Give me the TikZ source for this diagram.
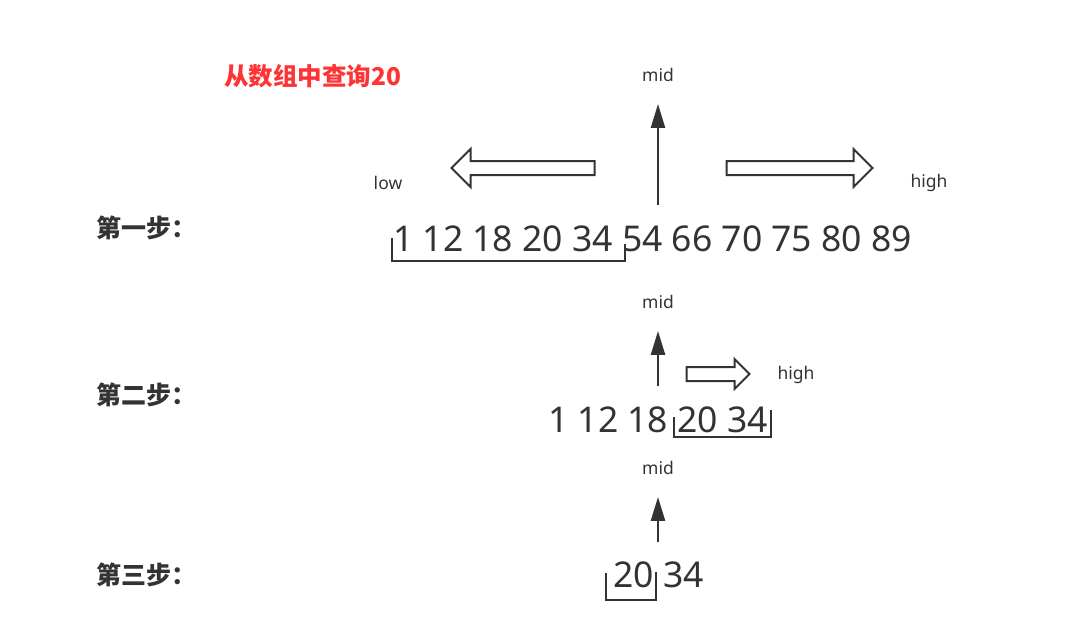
\documentclass[tikz,border=0pt]{standalone}
\usepackage{fontspec}
\setmainfont{Noto Sans}
\newfontfamily\cjk{Noto Sans CJK SC}
\usetikzlibrary{positioning,arrows.meta,shapes.arrows}
\definecolor{ink}{RGB}{51,51,51}
\definecolor{alert}{RGB}{255,51,51}

\tikzset{
  num/.style={anchor=base west,inner sep=0pt,text=ink,font=\fontsize{35.5}{40}\selectfont},
  tag/.style={inner sep=0pt,text=ink,font=\fontsize{17.5}{20}\selectfont},
  steplabel/.style={anchor=west,inner sep=0pt,text=ink,font=\cjk\bfseries\fontsize{25}{29}\selectfont},
  hollow/.style={single arrow,draw=ink,line width=2pt,fill=white,inner sep=6pt,
    single arrow head extend=#1,minimum height=10pt},
  midarrow/.style={-{Triangle[length=24pt,width=14pt]},line width=2.4pt,draw=ink,shorten >=22pt},
  bracket/.style={line width=2pt,draw=ink}
}

\begin{document}
\begin{tikzpicture}[x=1pt,y=-1pt]
    \useasboundingbox (0,0) rectangle (1080,635);

    % Titre
    \node[anchor=west,inner sep=0pt,text=alert,font=\cjk\bfseries\fontsize{24.5}{29}\selectfont] (title) at (224,76) {从数组中查询20};

    % Étapes
    \node[steplabel] (s1) at (96,228) {第一步：};
    \node[steplabel] (s2) at (96,395) {第二步：};
    \node[steplabel] (s3) at (96,575) {第三步：};

    % Premier pas
    \node[num] (row1) at (393,251) {1 12 18 20 34 54 66 70 75 80 89};
    \node[tag] (mid1) at (658,75) {mid};
    \coordinate (m1) at (658,205);
    \draw[midarrow] (m1) -- (mid1.south);
    \node[hollow=12pt,minimum height=143pt,shape border rotate=180] (left1) at (526.5,168) {};
    \node[hollow=12pt,minimum height=146pt] (right1) at (796,168) {};
    \node[tag] (low1) at (388,183) {low};
    \node[tag] (high1) at (929,183) {high};
    \draw[bracket] (392,238) -- (392,261) -- (625,261) -- (625,244);

    % Deuxième pas
    \node[num] (row2) at (548,432) {1 12 18 20 34};
    \node[tag] (mid2) at (658,302) {mid};
    \coordinate (m2) at (658,386);
    \draw[midarrow] (m2) -- (mid2.south);
    \node[hollow=8pt,minimum height=63pt] (right2) at (714.5,374) {};
    \node[tag] (high2) at (796,375) {high};
    \draw[bracket] (674,417) -- (674,437) -- (771,437) -- (771,410);

    % Troisième pas
    \node[num] (row3) at (613,587) {20 34};
    \node[tag] (mid3) at (658,468) {mid};
    \coordinate (m3) at (658,542);
    \draw[midarrow] (m3) -- (mid3.south);
    \draw[bracket] (606,573) -- (606,600) -- (656,600) -- (656,572);

\end{tikzpicture}
\end{document}
